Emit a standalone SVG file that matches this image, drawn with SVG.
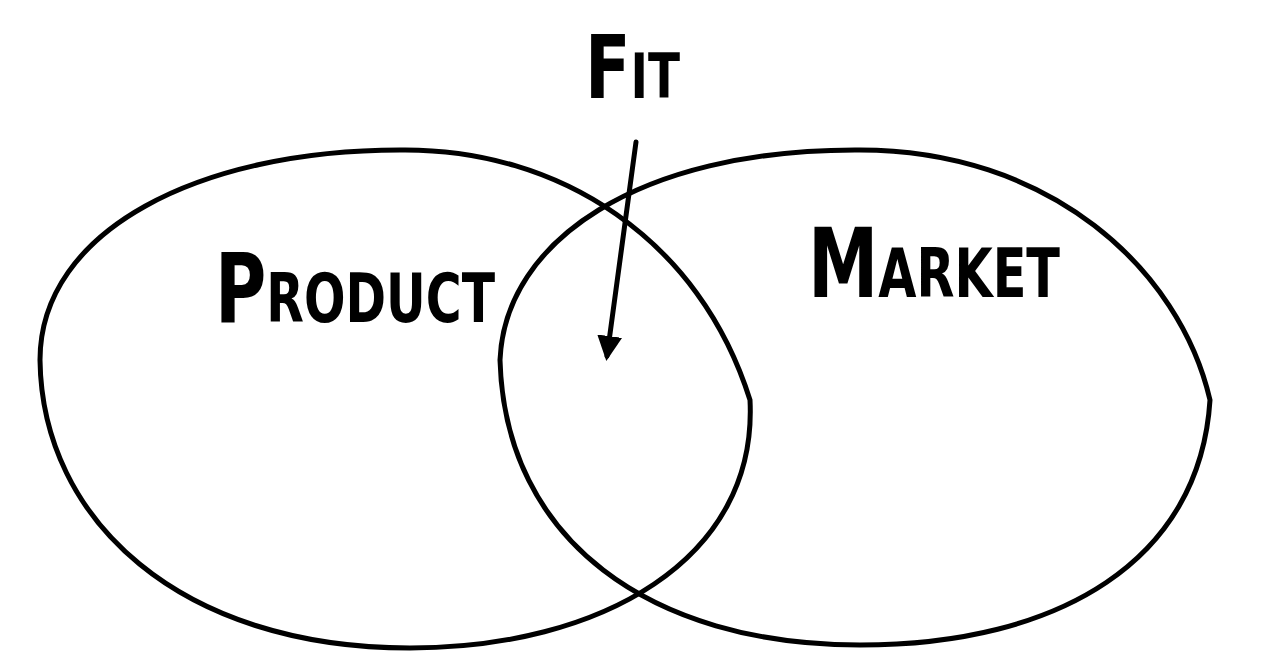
<svg xmlns="http://www.w3.org/2000/svg" width="1280" height="672" viewBox="0 0 1280 672">
<defs>
<style>
.c{fill:none;stroke:#000;stroke-width:5;stroke-linecap:round}
.t{font-family:"DejaVu Sans Condensed","DejaVu Sans",sans-serif;font-weight:bold;font-variant:small-caps;fill:#000}
</style>
<marker id="ah" viewBox="0 0 10 10" refX="8" refY="5" markerWidth="5" markerHeight="5" orient="auto"><path d="M0,0 L10,5 L0,10 z" fill="#000"/></marker>
</defs>
<rect width="1280" height="672" fill="#fff"/>
<g id="product">
<path class="c" d="M400,150 C560,148 700,240 750,400 C758,560 600,648 410,648 C180,648 42,520 40,360 C40,230 200,150 400,150 Z"/>
<text class="t" x="215" y="322" font-size="96" textLength="280" lengthAdjust="spacingAndGlyphs">Product</text>
</g>
<g id="market">
<path class="c" d="M855,150 C1050,148 1180,270 1210,400 C1200,560 1060,645 860,645 C650,645 505,540 500,360 C505,240 640,150 855,150 Z"/>
<text class="t" x="808" y="297" font-size="96" textLength="252" lengthAdjust="spacingAndGlyphs">Market</text>
</g>
<g id="fit">
<text class="t" x="585" y="98" font-size="88" textLength="95" lengthAdjust="spacingAndGlyphs">Fit</text>
</g>
<g id="connectors">
<path class="c" d="M636,142 L607,356" marker-end="url(#ah)"/>
</g>
</svg>
